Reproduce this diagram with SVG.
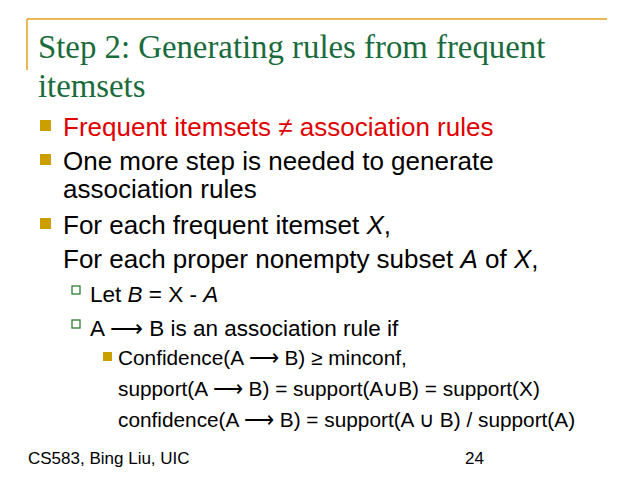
<svg xmlns="http://www.w3.org/2000/svg" width="638" height="478" viewBox="0 0 638 478">
<style>
text{font-family:"Liberation Sans",Arial,sans-serif;fill:#000}
.t{font-family:"Liberation Serif","Times New Roman",serif;font-size:32.8px;fill:#1a6b3c}
.l1{font-size:26px}.l2{font-size:22.5px}.l3{font-size:20.8px}
.b1{fill:#c9a000}.b2{fill:none;stroke:#2e7d32;stroke-width:1.3}
.f{font-size:17px}
</style>
<rect width="638" height="478" fill="#fff"/>
<g id="frame"><line x1="27" y1="19" x2="607" y2="19" stroke="#e0a020" stroke-width="1.5"/><line x1="27" y1="19" x2="27" y2="70" stroke="#e0a020" stroke-width="1.5"/></g>
<g id="title"><text class="t" x="38" y="58">Step 2: Generating rules from frequent</text><text class="t" x="38" y="97">itemsets</text></g>
<g id="bullets">
<rect class="b1" x="40" y="120" width="11" height="11"/>
<text class="l1" x="63" y="136" style="fill:#e00000">Frequent itemsets ≠ association rules</text>
<rect class="b1" x="40" y="154" width="11" height="11"/>
<text class="l1" x="63" y="170">One more step is needed to generate</text>
<text class="l1" x="63" y="198">association rules</text>
<rect class="b1" x="40" y="218" width="11" height="11"/>
<text class="l1" x="63" y="234">For each frequent itemset <tspan font-style="italic">X</tspan>,</text>
<text class="l1" x="63" y="268">For each proper nonempty subset <tspan font-style="italic">A</tspan> of <tspan font-style="italic">X</tspan>,</text>
<rect class="b2" x="72" y="286" width="8" height="8"/>
<text class="l2" x="90" y="302">Let <tspan font-style="italic">B</tspan> = X - <tspan font-style="italic">A</tspan></text>
<rect class="b2" x="72" y="320" width="8" height="8"/>
<text class="l2" x="90" y="336">A ⟶ B is an association rule if</text>
<rect class="b1" x="103" y="352" width="9" height="9"/>
<text class="l3" x="118" y="365">Confidence(A ⟶ B) ≥ minconf,</text>
<text class="l3" x="118" y="396">support(A ⟶ B) = support(A∪B) = support(X)</text>
<text class="l3" x="118" y="427">confidence(A ⟶ B) = support(A ∪ B) / support(A)</text>
</g>
<g id="footer"><text class="f" x="28" y="464">CS583, Bing Liu, UIC</text><text class="f" x="465" y="464">24</text></g>
</svg>
